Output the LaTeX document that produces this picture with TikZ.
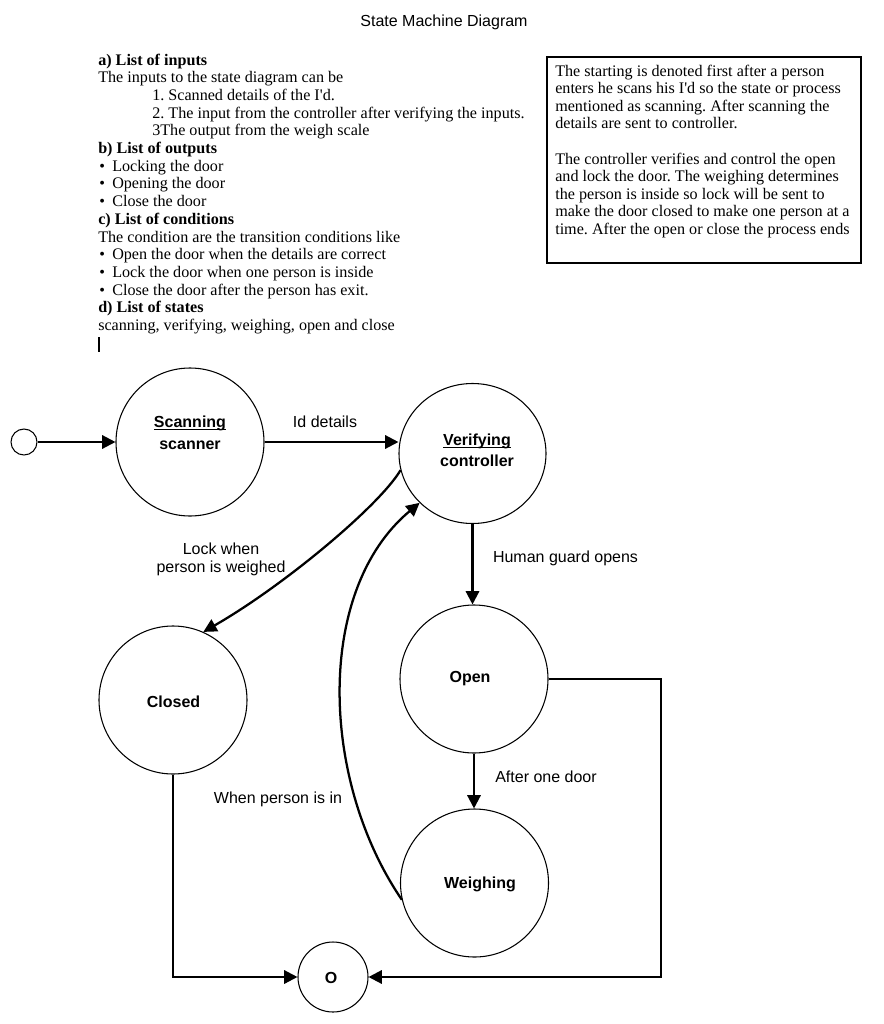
\documentclass[tikz,border=0pt]{standalone}
\usepackage{fontspec}
\setmainfont{Liberation Serif}
\setsansfont{Liberation Sans}
\usetikzlibrary{arrows.meta,shapes.geometric}
\newcommand\myul[1]{\setbox0\hbox{#1}\rlap{\rule[-1.8pt]{\wd0}{0.7pt}}\box0}
\frenchspacing
\begin{document}
\begin{tikzpicture}[x=0.75pt,y=-0.75pt,
  state/.style={circle,draw,line width=0.8pt,minimum size=111pt,inner sep=0pt},
  stxt/.style={font=\sffamily\bfseries\fontsize{12}{16}\selectfont,align=center,inner sep=0pt},
  lbl/.style={font=\sffamily\fontsize{12}{13.2}\selectfont,inner sep=0pt,align=center},
  arr/.style={line width=1.7pt,-{Triangle[length=10pt,width=10pt]}},
  tx/.style={font=\fontsize{12.1}{14}\selectfont,anchor=base west,inner sep=0pt},
  txb/.style={font=\bfseries\fontsize{12.1}{14}\selectfont,anchor=base west,inner sep=0pt},
]
\useasboundingbox (0,0) rectangle (884,1024);

% title
\node[lbl] (title) at (444,22) {State Machine Diagram};

% left text block
\node[txb] (l0) at (98,65) {a) List of inputs};
\node[tx] (l1) at (98,82.7) {The inputs to the state diagram can be};
\node[tx] (l2) at (152,100.4) {1. Scanned details of the I\textquotesingle d.};
\node[tx] (l3) at (152,118.1) {2. The input from the controller after verifying the inputs.};
\node[tx] (l4) at (152,135.8) {3The output from the weigh scale};
\node[txb] (l5) at (98,153.5) {b) List of outputs};
\node[tx] (b6) at (99,171.2) {•};
\node[tx] (l6) at (112,171.2) {Locking the door};
\node[tx] (b7) at (99,188.9) {•};
\node[tx] (l7) at (112,188.9) {Opening the door};
\node[tx] (b8) at (99,206.6) {•};
\node[tx] (l8) at (112,206.6) {Close the door};
\node[txb] (l9) at (98,224.3) {c) List of conditions};
\node[tx] (l10) at (98,242) {The condition are the transition conditions like};
\node[tx] (b11) at (99,259.7) {•};
\node[tx] (l11) at (112,259.7) {Open the door when the details are correct};
\node[tx] (b12) at (99,277.4) {•};
\node[tx] (l12) at (112,277.4) {Lock the door when one person is inside};
\node[tx] (b13) at (99,295.1) {•};
\node[tx] (l13) at (112,295.1) {Close the door after the person has exit.};
\node[txb] (l14) at (98,312.8) {d) List of states};
\node[tx] (l15) at (98,330.5) {scanning, verifying, weighing, open and close};
\draw[line width=0.8pt] (99,337) -- (99,352);

% right box
\draw[line width=1.2pt] (547,57) rectangle (861,263);
\node[tx] (r1) at (555,76) {The starting is denoted first after a person};
\node[tx] (r2) at (555,93.6) {enters he scans his I\textquotesingle d so the state or process};
\node[tx] (r3) at (555,111.2) {mentioned as scanning. After scanning the};
\node[tx] (r4) at (555,128.8) {details are sent to controller.};
\node[tx] (r5) at (555,164) {The controller verifies and control the open};
\node[tx] (r6) at (555,181.6) {and lock the door. The weighing determines};
\node[tx] (r7) at (555,199.2) {the person is inside so lock will be sent to};
\node[tx] (r8) at (555,216.8) {make the door closed to make one person at a};
\node[tx] (r9) at (555,234.4) {time. After the open or close the process ends};

% states
\node[circle,draw,line width=0.8pt,minimum size=19.5pt,inner sep=0pt] (start) at (24,442) {};
\node[state] (scan) at (190,442) {};
\node[ellipse,draw,line width=0.8pt,minimum width=110.25pt,minimum height=105pt,inner sep=0pt] (verif) at (472.5,453.5) {};
\node[state] (open) at (474,679) {};
\node[state] (weigh) at (474.5,883) {};
\node[state] (closed) at (173,700) {};
\node[circle,draw,line width=0.8pt,minimum size=52.5pt,inner sep=0pt] (fin) at (333,977) {};

\node[stxt,font=\sffamily\bfseries\fontsize{12}{16.2}\selectfont] (scanT) at (190,432.5) {\myul{Scanning}\\scanner};
\node[stxt,font=\sffamily\bfseries\fontsize{12}{15.75}\selectfont] (verifT) at (477,450.5) {\myul{Verifying}\\controller};
\node[stxt] (openT) at (470,679) {Open};
\node[stxt] (weighT) at (480,884) {Weighing};
\node[stxt] (closedT) at (173.5,701.5) {Closed};
\node[stxt] (finT) at (331,978) {O};

% connectors
\draw[arr] (start) -- (scan);
\draw[arr] (scan.east) -- (scan.east -| verif.west);
\draw[arr] (verif.south) -- (verif.south |- open.north);
\draw[arr] (open.south) -- (open.south |- weigh.north);
\coordinate (rc) at (661,679);
\draw[arr] (open.east) -- (rc) |- (fin.east);
\draw[arr] (closed.south) |- (fin.west);
\draw[arr] (verif.193) .. controls (380,505) and (285,585) .. (closed.66);
\draw[arr] (weigh.193) .. controls (320,780) and (315,590) .. (verif.223);

% labels
\node[lbl] (idl) at (325,422) {Id details};
\node[lbl] (lockl) at (221,559.5) {Lock when\\person is weighed};
\node[lbl] (guardl) at (565.5,558) {Human guard opens};
\node[lbl] (afterl) at (546,777) {After one door};
\node[lbl] (whenl) at (278,799) {When person is in};
\end{tikzpicture}
\end{document}
